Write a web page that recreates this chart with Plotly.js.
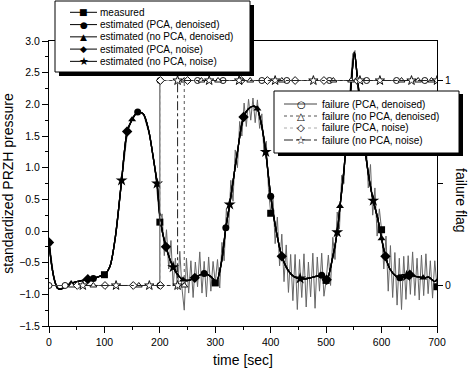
<!DOCTYPE html>
<html>
<head>
<meta charset="utf-8">
<script src="https://cdn.plot.ly/plotly-3.0.1.min.js"></script>
<style>html,body{margin:0;padding:0;background:#fff}#chart{width:474px;height:370px}</style>
</head>
<body>
<div id="chart"></div>
<script>
// ================= DATA =================
// measured (standardized PRZH pressure), sampled every 4 s from t = 0 s
const measStep = 4;
const measured = [
-0.15,-0.45,-0.68,-0.82,-0.90,-0.92,-0.91,-0.89,-0.87,-0.84,
-0.82,-0.81,-0.80,-0.80,-0.79,-0.78,-0.78,-0.77,-0.77,-0.76,
-0.75,-0.74,-0.73,-0.72,-0.70,-0.69,-0.66,-0.60,-0.48,-0.30,
-0.05,0.25,0.58,0.90,1.20,1.45,1.62,1.72,1.80,1.85,
1.88,1.88,1.86,1.80,1.68,1.55,1.38,1.18,0.90,0.55,
0.14,0.27,-0.39,0.02,-0.60,-0.15,-0.87,-0.43,-0.93,-0.32,
-0.91,-1.25,-0.43,-0.98,-0.47,-1.05,-0.49,-0.88,-0.33,-0.98,
-0.48,-1.04,-0.41,-0.95,-0.48,-0.82,-0.45,-0.90,-0.18,-0.47,
0.35,0.03,0.80,0.47,1.28,1.00,1.73,1.50,2.02,1.65,
2.08,1.75,2.10,1.71,2.07,1.62,1.85,1.20,1.42,0.65,
0.28,0.55,-0.20,0.22,-0.55,-0.05,-0.80,-0.22,-0.97,-0.37,
-1.10,-0.37,-1.24,-0.45,-1.05,-0.36,-1.20,-0.49,-1.04,-0.35,
-1.22,-0.41,-0.95,-0.35,-1.03,-0.78,-0.38,-0.86,-0.10,-0.45,
0.30,0.03,0.88,0.75,1.63,1.85,2.40,2.80,2.85,2.30,
1.90,1.98,1.20,1.45,0.68,1.05,0.25,0.68,-0.08,0.35,
0.02,-0.60,-0.08,-0.95,-0.23,-1.05,-0.34,-1.17,-0.43,-1.24,
-0.40,-1.08,-0.39,-1.00,-0.33,-1.02,-0.43,-1.09,-0.38,-1.02,
-0.36,-0.99,-0.47,-1.06,-0.47,-0.88
];
const measuredMarkTimes = [100, 200, 300, 400, 500, 600, 700];

// estimated signal (the four estimators coincide at this scale)
const estTime = [0,5,10,15,20,30,40,50,60,70,80,90,101,110,120,131,141,150,160,170,
180,187,195,201,211,224,235,242,252,263,280,292,302,311,319,326,340,351,360,370,
376,384,391,400,410,420,432,442,453,466,480,492,501,511,520,525,532,540,545,551,
556,562,570,578,585,593,600,607,615,627,633,645,651,663,675,685,696,700];
const estValue = [-0.18,-0.55,-0.78,-0.90,-0.92,-0.88,-0.83,-0.80,-0.78,-0.76,
-0.75,-0.72,-0.68,-0.56,-0.08,0.80,1.57,1.76,1.88,1.85,
1.58,1.22,0.75,0.16,-0.25,-0.57,-0.72,-0.77,-0.78,-0.74,
-0.67,-0.72,-0.80,-0.50,0.05,0.42,1.25,1.80,1.93,1.97,
1.93,1.65,1.25,0.55,0.00,-0.40,-0.63,-0.72,-0.75,-0.75,
-0.72,-0.70,-0.77,-0.45,-0.02,0.39,0.95,1.80,2.30,2.82,
2.45,1.95,1.30,0.80,0.48,0.20,-0.12,-0.40,-0.60,-0.72,
-0.74,-0.71,-0.69,-0.72,-0.74,-0.73,-0.80,-0.76];
// marker sample times of each estimator
const markPCAden    = [0, 80, 160, 280, 319, 400, 492, 562, 633];
const markNoPCAden  = [40, 150, 242, 376, 525, 600, 675];
const markPCAnoise  = [0, 70, 141, 211, 263, 351, 420, 501, 607, 651];
const markNoPCAnoise= [131, 195, 224, 326, 391, 453, 520, 585, 645];

// failure flags (right axis)
const failPCAdenTime     = [0, 29, 200, 200, 268, 314, 384, 429, 506, 573, 627, 678];
const failPCAdenFlag     = [0, 0, 0, 1, 1, 1, 1, 1, 1, 1, 1, 1];
const failNoPCAdenTime   = [41, 80, 162, 244, 244, 275, 305, 363, 420, 513, 545, 636, 666, 690];
const failNoPCAdenFlag   = [0, 0, 0, 0, 1, 1, 1, 1, 1, 1, 1, 1, 1, 1];
const failPCAnoiseTime   = [51, 101, 152, 201, 201, 250, 347, 394, 444, 496, 556];
const failPCAnoiseFlag   = [0, 0, 0, 0, 1, 1, 1, 1, 1, 1, 1];
const failNoPCAnoiseTime = [61, 121, 181, 232, 232, 289, 343, 408, 477, 561, 597, 654, 700];
const failNoPCAnoiseFlag = [0, 0, 0, 0, 1, 1, 1, 1, 1, 1, 1, 1, 1];

const xTicks = [0, 100, 200, 300, 400, 500, 600, 700];

// ================= STYLE / LAYOUT =================
const FONT = 'Liberation Sans, Arial, Helvetica, sans-serif';
const GLYPHFONT = 'DejaVu Sans, sans-serif';
const W = 474, H = 370, M = {l: 49, r: 37, t: 41, b: 44};
const pw = W - M.l - M.r, ph = H - M.t - M.b;
const PX = v => (v - M.l) / pw;
const PY = v => (H - M.b - v) / ph;

const estSeries = [
  {name: 'estimated (PCA, denoised)',    marks: markPCAden,     symbol: 'circle',      glyph: '\u25CF', size: 7},
  {name: 'estimated (no PCA, denoised)', marks: markNoPCAden,   symbol: 'triangle-up', glyph: '\u25B2', size: 7},
  {name: 'estimated (PCA, noise)',       marks: markPCAnoise,   symbol: 'diamond',     glyph: '\u25C6', size: 8},
  {name: 'estimated (no PCA, noise)',    marks: markNoPCAnoise, symbol: 'star',        glyph: '\u2605', size: 9}
];
const failSeries = [
  {name: 'failure (PCA, denoised)',    t: failPCAdenTime,     f: failPCAdenFlag,     symbol: 'circle',      glyph: '\u25CB', dash: 'solid',   color: '#444'},
  {name: 'failure (no PCA, denoised)', t: failNoPCAdenTime,   f: failNoPCAdenFlag,   symbol: 'triangle-up', glyph: '\u25B3', dash: 'dot',     color: '#555'},
  {name: 'failure (PCA, noise)',       t: failPCAnoiseTime,   f: failPCAnoiseFlag,   symbol: 'diamond',     glyph: '\u25C7', dash: 'dot',     color: '#aaa'},
  {name: 'failure (no PCA, noise)',    t: failNoPCAnoiseTime, f: failNoPCAnoiseFlag, symbol: 'star',        glyph: '\u2606', dash: 'dashdot', color: '#222'}
];

const traces = [];
// failure flags
failSeries.forEach(s => {
  traces.push({x: s.t, y: s.f, yaxis: 'y2', mode: 'lines+markers', name: s.name,
    line: {color: s.color, width: 1, dash: s.dash},
    marker: {symbol: s.symbol, size: s.symbol === 'star' ? 7 : 6, color: 'white', line: {color: '#111', width: 1}},
    hoverinfo: 'skip'});
});
// measured signal
const measTime = measured.map((_, i) => i * measStep);
traces.push({x: measTime, y: measured, mode: 'lines', name: 'measured',
  line: {color: '#666', width: 1}, hoverinfo: 'skip'});
// estimated lines
estSeries.forEach(s => {
  traces.push({x: estTime, y: estValue, mode: 'lines', name: s.name,
    line: {color: 'black', width: 1.3, shape: 'spline', smoothing: 0.8}, hoverinfo: 'skip'});
});
// measured markers
traces.push({x: measuredMarkTimes, y: measuredMarkTimes.map(t => measured[t / measStep]),
  mode: 'markers', name: 'measured', marker: {symbol: 'square', size: 7, color: 'black'}, hoverinfo: 'skip'});
// estimator markers
estSeries.forEach(s => {
  traces.push({x: s.marks, y: s.marks.map(t => estValue[estTime.indexOf(t)]),
    mode: 'markers', name: s.name, marker: {symbol: s.symbol, size: s.size, color: 'black'}, hoverinfo: 'skip'});
});

// ---- custom legend boxes (Origin style with drop shadow) ----
const shapes = [], annotations = [];
function legendBox(x0, y0, x1, y1, dx, dy) {
  shapes.push({type: 'rect', xref: 'paper', yref: 'paper', x0: PX(x0 + dx), x1: PX(x1 + dx), y0: PY(y0 + dy), y1: PY(y1 + dy),
    fillcolor: 'black', line: {width: 0}, layer: 'above'});
  shapes.push({type: 'rect', xref: 'paper', yref: 'paper', x0: PX(x0), x1: PX(x1), y0: PY(y0), y1: PY(y1),
    fillcolor: 'white', line: {color: 'black', width: 1}, layer: 'above'});
}
function legendRow(yc, lx0, lx1, gx, tx, glyph, gsize, label, dash, color) {
  shapes.push({type: 'line', xref: 'paper', yref: 'paper', x0: PX(lx0), x1: PX(lx1), y0: PY(yc), y1: PY(yc),
    line: {color: color, width: 1, dash: dash}, layer: 'above'});
  annotations.push({xref: 'paper', yref: 'paper', x: PX(gx), y: PY(yc), text: glyph, showarrow: false,
    xanchor: 'center', yanchor: 'middle', font: {family: GLYPHFONT, size: gsize, color: 'black'}});
  annotations.push({xref: 'paper', yref: 'paper', x: PX(tx), y: PY(yc), text: label, showarrow: false,
    xanchor: 'left', yanchor: 'middle', font: {family: FONT, size: 10, color: 'black'}});
}
legendBox(55, 1, 250, 72, 4, 4);
legendRow(12.3, 70, 97, 83.5, 98, '\u25A0', 9, 'measured', 'solid', 'black');
estSeries.forEach((s, i) => legendRow(24.6 + i * 12.25, 70, 97, 83.5, 98, s.glyph, s.symbol === 'star' ? 11 : 9, s.name, 'solid', 'black'));
legendBox(274, 91, 459, 153, 4, 3);
failSeries.forEach((s, i) => legendRow(104 + i * 12, 284, 317, 301, 320, s.glyph, s.symbol === 'star' ? 11 : 10, s.name, s.dash, s.color));

// right axis title (reads top-to-bottom)
annotations.push({xref: 'paper', yref: 'paper', x: PX(461), y: PY(200), text: 'failure flag', textangle: 90,
  showarrow: false, xanchor: 'center', yanchor: 'middle', font: {family: FONT, size: 14, color: 'black'}});

const axisCommon = {showline: true, linecolor: 'black', linewidth: 1, ticks: 'outside', tickcolor: 'black',
  tickwidth: 1, showgrid: false, zeroline: false, tickfont: {family: FONT, size: 10.5, color: 'black'}};

const layout = {
  width: W, height: H, margin: M, showlegend: false,
  paper_bgcolor: 'white', plot_bgcolor: 'white',
  font: {family: FONT, color: 'black'},
  xaxis: Object.assign({}, axisCommon, {range: [0, 700], tickvals: xTicks, ticklen: 6, mirror: true,
    minor: {dtick: 50, tick0: 0, ticks: 'outside', ticklen: 3, tickcolor: 'black', tickwidth: 1, showgrid: false},
    title: {text: 'time [sec]', font: {family: FONT, size: 14, color: 'black'}, standoff: 8}}),
  yaxis: Object.assign({}, axisCommon, {range: [-1.5, 3.0], tick0: -1.5, dtick: 0.5, tickformat: '.1f', ticklen: 6,
    minor: {dtick: 0.25, tick0: -1.5, ticks: 'outside', ticklen: 3, tickcolor: 'black', tickwidth: 1, showgrid: false},
    title: {text: 'standardized PRZH pressure', font: {family: FONT, size: 14, color: 'black'}, standoff: 6}}),
  yaxis2: Object.assign({}, axisCommon, {overlaying: 'y', side: 'right', range: [-0.1976, 1.1927],
    tickvals: [0, 0.5, 1], ticktext: ['0', '', '1'], ticklen: 5}),
  shapes: shapes, annotations: annotations
};

Plotly.newPlot('chart', traces, layout, {displayModeBar: false, staticPlot: true});
</script>
</body>
</html>
